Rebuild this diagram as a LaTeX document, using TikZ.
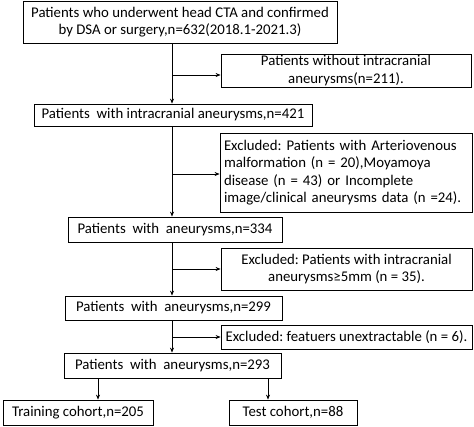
\documentclass[tikz,border=0pt]{standalone}
\usepackage{fontspec}
\setmainfont{Carlito}
\usetikzlibrary{arrows.meta}
\frenchspacing
\begin{document}
\begin{tikzpicture}[x=1pt,y=-1pt,
  box/.style={draw, line width=0.8pt, inner sep=0pt, align=center,
    font=\fontsize{14.8}{17.4}\selectfont},
  arr/.style={line width=0.7pt, -{Stealth[length=5pt,width=4pt]}}]
\useasboundingbox (0,0) rectangle (474,426);
% boxes: centre, width, height
\node[box, minimum width=314pt, minimum height=42pt] (b1) at (180,22) {Patients who underwent head CTA and confirmed\\by DSA or surgery,n=632(2018.1-2021.3)};
\node[box, minimum width=250pt, minimum height=33pt] (b2) at (346,70.5) {Patients without intracranial\\aneurysms(n=211).};
\node[box, minimum width=278pt, minimum height=22pt] (b3) at (173,115) {Patients\ \ with intracranial aneurysms,n=421};
\node[box, minimum width=252pt, minimum height=79pt, text width=244pt, align=left] (b4) at (346,172.5) {Excluded: Patients with Arteriovenous\\malformation (n = 20),Moyamoya\\disease (n = 43) or Incomplete\\image/clinical aneurysms data (n =24).};
\node[box, minimum width=214pt, minimum height=25pt] (b5) at (175,229.5) {Patients\ \ with\ \ aneurysms,n=334};
\node[box, minimum width=251pt, minimum height=42pt] (b6) at (346.5,269) {Excluded: Patients with intracranial\\aneurysms≥5mm (n = 35).};
\node[box, minimum width=217pt, minimum height=24pt] (b7) at (173.5,308) {Patients\ \ with\ \ aneurysms,n=299};
\node[box, minimum width=251pt, minimum height=24pt] (b8) at (346.5,337) {Excluded: featuers unextractable (n = 6).};
\node[box, minimum width=217pt, minimum height=25pt] (b9) at (172.5,365.5) {Patients\ \ with\ \ aneurysms,n=293};
\node[box, minimum width=150pt, minimum height=25pt] (tr) at (78,412.5) {Training cohort,n=205};
\node[box, minimum width=128pt, minimum height=25pt] (te) at (293,412.5) {Test cohort,n=88};
% main spine
\coordinate (m) at (172,0);
\coordinate (j1) at (172,75);
\coordinate (j2) at (172,174);
\coordinate (j3) at (172,269);
\coordinate (j4) at (172,337);
\coordinate (l) at (98,0);
\coordinate (r) at (268,0);
\draw[arr] (b1.south -| m) -- (b3.north -| m);
\draw[arr] (b3.south -| m) -- (b5.north -| m);
\draw[arr] (b5.south -| m) -- (b7.north -| m);
\draw[arr] (b7.south -| m) -- (b9.north -| m);
\draw[arr] (j1) -- (j1 -| b2.west);
\draw[arr] (j2) -- (j2 -| b4.west);
\draw[arr] (j3) -- (j3 -| b6.west);
\draw[arr] (j4) -- (j4 -| b8.west);
\draw[arr] (b9.south -| l) -- (tr.north -| l);
\draw[arr] (b9.south -| r) -- (te.north -| r);
\end{tikzpicture}
\end{document}
